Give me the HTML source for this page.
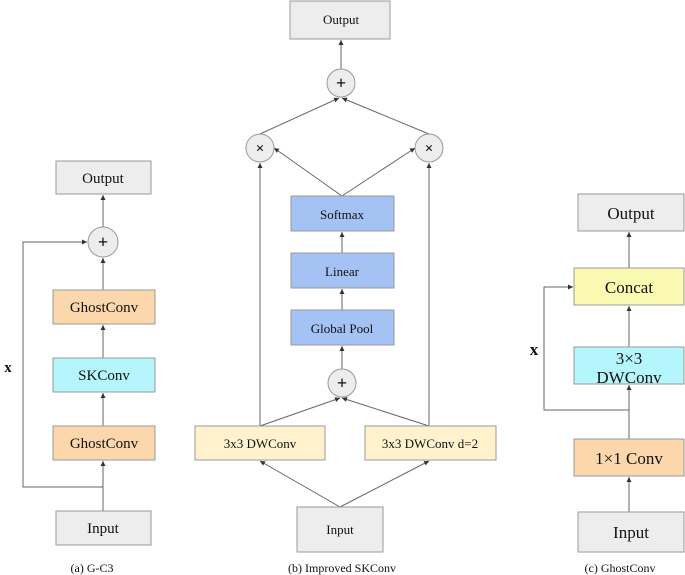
<!DOCTYPE html>
<html><head><meta charset="utf-8"><style>
html,body{margin:0;padding:0;background:#fff;width:685px;height:575px;overflow:hidden}
svg text{font-family:"Liberation Serif",serif;fill:#111}
</style></head><body>
<svg width="685" height="575" viewBox="0 0 685 575" xmlns="http://www.w3.org/2000/svg">
<defs><marker id="a" markerWidth="6" markerHeight="6" refX="5" refY="3" orient="auto" markerUnits="userSpaceOnUse"><path d="M0,0.5 L5,3 L0,5.5z" fill="#333"/></marker></defs>
<g stroke="#666" stroke-width="1" fill="none">
<line x1="103" y1="511" x2="103" y2="461" marker-end="url(#a)"/>
<line x1="103" y1="426" x2="103" y2="393" marker-end="url(#a)"/>
<line x1="103" y1="358" x2="103" y2="325" marker-end="url(#a)"/>
<line x1="103" y1="290" x2="103" y2="258" marker-end="url(#a)"/>
<line x1="103" y1="227" x2="103" y2="195" marker-end="url(#a)"/>
<polyline points="103,487 23,487 23,242 87,242" marker-end="url(#a)"/>
<line x1="340" y1="507" x2="260" y2="461" marker-end="url(#a)"/>
<line x1="340" y1="507" x2="429" y2="461" marker-end="url(#a)"/>
<line x1="260" y1="426" x2="340" y2="398" marker-end="url(#a)"/>
<line x1="429" y1="426" x2="342" y2="398" marker-end="url(#a)"/>
<line x1="260" y1="426" x2="260" y2="163" marker-end="url(#a)"/>
<line x1="429" y1="426" x2="429" y2="163" marker-end="url(#a)"/>
<line x1="342" y1="369" x2="342" y2="346" marker-end="url(#a)"/>
<line x1="342" y1="310" x2="342" y2="289" marker-end="url(#a)"/>
<line x1="342" y1="253" x2="342" y2="232" marker-end="url(#a)"/>
<line x1="342" y1="196" x2="274" y2="148" marker-end="url(#a)"/>
<line x1="342" y1="196" x2="415" y2="148" marker-end="url(#a)"/>
<line x1="260" y1="134" x2="339" y2="98" marker-end="url(#a)"/>
<line x1="429" y1="134" x2="342" y2="98" marker-end="url(#a)"/>
<line x1="341" y1="69" x2="341" y2="40" marker-end="url(#a)"/>
<line x1="629" y1="512" x2="629" y2="477" marker-end="url(#a)"/>
<line x1="629" y1="439" x2="629" y2="385" marker-end="url(#a)"/>
<line x1="629" y1="347" x2="629" y2="306" marker-end="url(#a)"/>
<line x1="629" y1="268" x2="629" y2="232" marker-end="url(#a)"/>
<polyline points="629,410 544,410 544,287 573,287" marker-end="url(#a)"/>
</g>
<g stroke="#999" stroke-width="1">
<rect x="56" y="161" width="95" height="33" fill="#ededed"/>
<circle cx="103" cy="242" r="15" fill="#ededed"/>
<rect x="53" y="290" width="102" height="34" fill="#fcd7ab"/>
<rect x="53" y="358" width="102" height="34" fill="#b5f5fc"/>
<rect x="53" y="426" width="102" height="34" fill="#fcd7ab"/>
<rect x="56" y="511" width="95" height="34" fill="#ededed"/>
<rect x="290" y="1" width="100" height="38" fill="#ededed"/>
<circle cx="341" cy="83" r="14" fill="#ededed"/>
<circle cx="260" cy="148" r="14" fill="#ededed"/>
<circle cx="429" cy="148" r="14" fill="#ededed"/>
<rect x="291" y="196" width="103" height="35" fill="#a4c2f4"/>
<rect x="291" y="253" width="103" height="35" fill="#a4c2f4"/>
<rect x="291" y="310" width="103" height="35" fill="#a4c2f4"/>
<circle cx="342" cy="383" r="14" fill="#ededed"/>
<rect x="195" y="426" width="130" height="34" fill="#fff2cc"/>
<rect x="365" y="426" width="131" height="34" fill="#fff2cc"/>
<rect x="297" y="507" width="86" height="45" fill="#ededed"/>
<rect x="578" y="194" width="106" height="37" fill="#ededed"/>
<rect x="574" y="268" width="110" height="37" fill="#fafab2"/>
<rect x="574" y="347" width="110" height="37" fill="#b5f5fc"/>
<rect x="574" y="439" width="110" height="37" fill="#fcd7ab"/>
<rect x="578" y="512" width="106" height="40" fill="#ededed"/>
</g>
<g font-size="15" text-anchor="middle">
<text x="103" y="183">Output</text>
<text x="104" y="312">GhostConv</text>
<text x="104" y="380">SKConv</text>
<text x="104" y="448">GhostConv</text>
<text x="103" y="533">Input</text>
<text x="8" y="372" font-weight="bold">x</text>
<g font-size="13">
<text x="341" y="24">Output</text>
<text x="342" y="219">Softmax</text>
<text x="342" y="276">Linear</text>
<text x="342" y="333">Global Pool</text>
<text x="260" y="448">3x3 DWConv</text>
<text x="430" y="448">3x3 DWConv d=2</text>
<text x="340" y="534">Input</text>
</g>
<g style="font-family:'Liberation Sans',sans-serif" font-weight="bold">
<text x="103" y="248" font-size="18">+</text>
<text x="341" y="89" font-size="18">+</text>
<text x="342" y="389" font-size="18">+</text>
<text x="260" y="153" font-size="15">×</text>
<text x="429" y="153" font-size="15">×</text>
</g>
<g font-size="17">
<text x="631" y="219">Output</text>
<text x="629" y="293">Concat</text>
<text x="629" y="364">3×3</text>
<text x="629" y="383">DWConv</text>
<text x="629" y="464">1×1 Conv</text>
<text x="631" y="538">Input</text>
<text x="534" y="355" font-weight="bold">x</text>
</g>
<g font-size="12">
<text x="92" y="572">(a)  G-C3</text>
<text x="342" y="572">(b)  Improved SKConv</text>
<text x="620" y="572">(c)  GhostConv</text>
</g>
</g>
</svg>
</body></html>
